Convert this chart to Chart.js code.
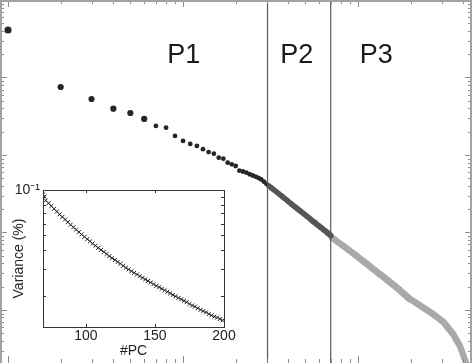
<!DOCTYPE html>
<html>
<head>
<meta charset="utf-8">
<script src="https://cdn.jsdelivr.net/npm/chart.js@4.4.0/dist/chart.umd.min.js"></script>
<style>
  html, body { margin: 0; padding: 0; background: #fff; overflow: hidden; }
  #wrap { position: relative; width: 474px; height: 363px; }
  canvas { position: absolute; left: 0; top: 0; }
</style>
</head>
<body>
<div id="wrap">
  <canvas id="mainChart" width="474" height="363"></canvas>
  <canvas id="insetChart" width="474" height="363"></canvas>
</div>
<script>
// --- DATA: explained variance (%) per principal component ---
const pcP1 = [1, 2, 3, 4, 5, 6, 7, 8, 9, 10, 11, 12, 13, 14, 15, 16, 17, 18, 19, 20,
              21, 22, 23, 24, 25, 26, 27, 28, 29, 30];
const varP1 = [41.0, 7.54, 5.28, 3.96, 3.48, 2.92, 2.37, 2.25, 1.76, 1.52, 1.39, 1.31, 1.19, 1.09, 1.04,
               0.923, 0.896, 0.796, 0.759, 0.721, 0.627, 0.612, 0.594, 0.564, 0.544, 0.525, 0.505, 0.483, 0.452, 0.423];

const pcP2 = [31, 32, 33, 34, 35, 36, 37, 38, 39, 40, 41, 42, 43, 44, 45, 46, 47, 48, 49, 50,
              51, 52, 53, 54, 55, 56, 57, 58, 59, 60, 61, 62, 63, 64, 65, 66, 67, 68, 69, 70];
const varP2 = [0.398, 0.376, 0.356, 0.337, 0.320, 0.304, 0.290, 0.276, 0.264, 0.251,
               0.240, 0.230, 0.220, 0.211, 0.203, 0.195, 0.188, 0.181, 0.174, 0.168,
               0.162, 0.157, 0.151, 0.146, 0.141, 0.137, 0.133, 0.128, 0.124, 0.121,
               0.117, 0.114, 0.111, 0.107, 0.105, 0.102, 0.0988, 0.0962, 0.0935, 0.0905];

const pcP3 = [71, 73, 75, 77, 79, 81, 83, 85, 87, 89, 91, 93, 95, 97, 99,
              101, 103, 105, 107, 109, 111, 113, 115, 117, 119, 121, 123, 125, 127, 129,
              131, 133, 135, 137, 139, 141, 143, 145, 147, 149, 151, 153, 155, 157, 159,
              161, 163, 165, 167, 169, 171, 173, 175, 177, 179, 181, 183, 185, 187, 189,
              191, 193, 195, 197, 199,
              205, 210, 215, 220, 225, 230, 235, 240, 245, 250, 255, 260, 265, 270, 275,
              280, 285, 290, 295, 300, 305, 310, 315, 320, 325, 330, 335, 340, 345, 350,
              355, 360, 365, 370, 375, 380, 385, 390, 395, 400, 405, 410, 415, 420];
const varP3 = [0.0853, 0.0818, 0.0783, 0.0751, 0.0719, 0.0690, 0.0663, 0.0638, 0.0613, 0.0589,
               0.0567, 0.0547, 0.0527, 0.0508, 0.0490, 0.0473, 0.0457, 0.0442, 0.0428, 0.0414,
               0.0401, 0.0389, 0.0377, 0.0365, 0.0354, 0.0344, 0.0334, 0.0325, 0.0315, 0.0306,
               0.0298, 0.0290, 0.0283, 0.0276, 0.0269, 0.0262, 0.0256, 0.0250, 0.0244, 0.0238,
               0.0232, 0.0227, 0.0222, 0.0217, 0.0212, 0.0207, 0.0202, 0.0198, 0.0193, 0.0189,
               0.0185, 0.0181, 0.0176, 0.0172, 0.0169, 0.0165, 0.0161, 0.0158, 0.0155, 0.0151,
               0.0148, 0.0145, 0.0143, 0.0140, 0.0137,
               0.01322, 0.01276, 0.01231, 0.01188, 0.01150, 0.01113, 0.01080, 0.01046, 0.01015, 0.00985,
               0.00956, 0.00931, 0.00901, 0.00875, 0.00849, 0.00822, 0.00800, 0.00774, 0.00752, 0.00730,
               0.00713, 0.00684, 0.00654, 0.00625, 0.00598, 0.00574, 0.00550, 0.00528, 0.00506, 0.00486,
               0.00459, 0.00435, 0.00411, 0.00391, 0.00371, 0.00351, 0.00328, 0.00305, 0.00282, 0.00260,
               0.00241, 0.00222, 0.00204, 0.00187];

// period boundaries (#PC) and labels
const boundaryPCs = [30.4, 69.8];
const periodNames = ['P1', 'P2', 'P3'];
const periodLabelPCs = [10.1, 44.7, 127];
const periodLabelLevel = 15.2;

// axis ranges
const X_MIN = 0.9, X_MAX = 448;
const Y_MIN = 0.00207, Y_MAX = 100;
const INSET_X = [69, 200];
const INSET_Y = [0.01239, 0.1];

const FONT = '"Liberation Sans", Arial, Helvetica, sans-serif';

function toPoints(pcs, vals) {
    return pcs.map((pc, i) => ({ x: pc, y: vals[i] }));
}

// --- MAIN CHART: frame + inward log ticks ---
const mainFrame = {
    id: 'mainFrame',
    afterDraw(chart) {
        const { ctx, chartArea: a, scales: { x, y } } = chart;
        ctx.save();
        ctx.strokeStyle = '#8a8a8a';
        ctx.lineWidth = 1;
        ctx.beginPath();
        for (let d = 1; d <= 100; d *= 10) {
            for (let m = 1; m < 10; m++) {
                const v = m * d;
                if (v < X_MIN || v > X_MAX) continue;
                const px = Math.round(x.getPixelForValue(v)) + 0.5;
                const len = m === 1 ? 7 : 4;
                ctx.moveTo(px, a.top); ctx.lineTo(px, a.top + len);
                ctx.moveTo(px, a.bottom); ctx.lineTo(px, a.bottom - len);
            }
        }
        for (let d = 0.001; d <= 10; d *= 10) {
            for (let m = 1; m <= 10; m++) {
                const v = m * d;
                if (v < Y_MIN || v > Y_MAX) continue;
                const py = Math.round(y.getPixelForValue(v)) + 0.5;
                const len = (m === 1 || m === 10) ? 7 : 4;
                ctx.moveTo(a.left, py); ctx.lineTo(a.left + len, py);
                ctx.moveTo(a.right, py); ctx.lineTo(a.right - len, py);
            }
        }
        ctx.stroke();
        ctx.strokeStyle = '#a3a3a3';
        ctx.lineWidth = 2;
        ctx.beginPath();
        ctx.moveTo(a.left + 1, a.bottom);
        ctx.lineTo(a.left + 1, a.top + 1);
        ctx.lineTo(a.right - 1, a.top + 1);
        ctx.lineTo(a.right - 1, a.bottom);
        ctx.stroke();
        ctx.restore();
    }
};

const periodLabels = {
    id: 'periodLabels',
    afterDatasetsDraw(chart) {
        const { ctx, scales: { x, y } } = chart;
        ctx.save();
        ctx.font = '27px ' + FONT;
        ctx.fillStyle = '#1a1a1a';
        ctx.textAlign = 'center';
        ctx.textBaseline = 'alphabetic';
        periodNames.forEach((name, i) => {
            ctx.fillText(name, x.getPixelForValue(periodLabelPCs[i]), y.getPixelForValue(periodLabelLevel));
        });
        ctx.restore();
    }
};

const boundarySets = boundaryPCs.map(b => ({
    data: [{ x: b, y: Y_MIN }, { x: b, y: Y_MAX }],
    showLine: true,
    borderColor: '#5a5a5a',
    borderWidth: 1.2,
    pointRadius: 0
}));

new Chart(document.getElementById('mainChart'), {
    type: 'scatter',
    data: {
        datasets: [
            ...boundarySets,
            {
                data: toPoints(pcP1, varP1),
                backgroundColor: '#262626',
                borderWidth: 0,
                pointRadius: pcP1.map(pc => pc === 1 ? 3.6 : (pc <= 6 ? 3.1 : 2.4))
            },
            {
                data: toPoints(pcP2, varP2),
                backgroundColor: '#565656',
                borderWidth: 0,
                pointRadius: 2.8
            },
            {
                data: toPoints(pcP3, varP3),
                backgroundColor: '#a9a9a9',
                borderWidth: 0,
                pointRadius: 3.2
            }
        ]
    },
    options: {
        responsive: false,
        animation: false,
        events: [],
        layout: { autoPadding: false, padding: { left: 0, right: 2, top: 0, bottom: 0 } },
        plugins: { legend: { display: false }, tooltip: { enabled: false } },
        scales: {
            x: { type: 'logarithmic', min: X_MIN, max: X_MAX, display: false },
            y: { type: 'logarithmic', min: Y_MIN, max: Y_MAX, display: false }
        }
    },
    plugins: [mainFrame, periodLabels]
});

// --- INSET: PC 69-200, linear x ---
const insetPoints = toPoints(pcP2.concat(pcP3), varP2.concat(varP3))
    .filter(p => p.x >= INSET_X[0] && p.x <= INSET_X[1]);

const insetFrame = {
    id: 'insetFrame',
    beforeDatasetsDraw(chart) {
        const { ctx, chartArea: a } = chart;
        ctx.save();
        ctx.fillStyle = '#fff';
        ctx.fillRect(a.left, a.top, a.right - a.left, a.bottom - a.top);
        ctx.restore();
    },
    afterDraw(chart) {
        const { ctx, chartArea: a, scales: { x, y } } = chart;
        ctx.save();
        ctx.strokeStyle = '#333';
        ctx.lineWidth = 1;
        ctx.beginPath();
        [100, 150].forEach(v => {
            const px = Math.round(x.getPixelForValue(v)) + 0.5;
            ctx.moveTo(px, a.top); ctx.lineTo(px, a.top + 3);
            ctx.moveTo(px, a.bottom); ctx.lineTo(px, a.bottom - 3);
        });
        for (let m = 2; m < 10; m++) {
            const v = m * 0.01;
            if (v < INSET_Y[0]) continue;
            const py = Math.round(y.getPixelForValue(v)) + 0.5;
            ctx.moveTo(a.left, py); ctx.lineTo(a.left + 3, py);
            ctx.moveTo(a.right, py); ctx.lineTo(a.right - 3, py);
        }
        ctx.stroke();
        ctx.strokeRect(Math.round(a.left) + 0.5, Math.round(a.top) + 0.5,
                       Math.round(a.right - a.left), Math.round(a.bottom - a.top));
        ctx.restore();
    }
};

new Chart(document.getElementById('insetChart'), {
    type: 'scatter',
    data: {
        datasets: [{
            data: insetPoints,
            pointStyle: 'crossRot',
            pointRadius: 2.8,
            borderColor: '#1e1e1e',
            backgroundColor: '#1e1e1e',
            borderWidth: 1
        }]
    },
    options: {
        responsive: false,
        animation: false,
        events: [],
        layout: { autoPadding: false, padding: { left: 0, top: 190, right: 250, bottom: 0 } },
        plugins: { legend: { display: false }, tooltip: { enabled: false } },
        scales: {
            x: {
                type: 'linear', min: INSET_X[0], max: INSET_X[1],
                grid: { display: false, drawTicks: false },
                border: { display: false },
                ticks: { stepSize: 50, includeBounds: false, padding: 1, maxRotation: 0,
                         color: '#222', font: { family: FONT, size: 14 } },
                title: { display: true, text: '#PC', color: '#222',
                         font: { family: FONT, size: 14 }, padding: { top: 0, bottom: 3 } },
                afterFit: s => { s.height = 36; }
            },
            y: {
                type: 'logarithmic', min: INSET_Y[0], max: INSET_Y[1],
                grid: { display: false, drawTicks: false },
                border: { display: false },
                ticks: { autoSkip: false, padding: 3, color: '#222', font: { family: FONT, size: 14 },
                         callback: v => Math.abs(v - 0.1) < 1e-9 ? '10⁻¹' : '' },
                title: { display: true, text: 'Variance (%)', color: '#222',
                         font: { family: FONT, size: 14 }, padding: { top: 11, bottom: 0 } },
                afterFit: s => { s.width = 43; }
            }
        }
    },
    plugins: [insetFrame]
});
</script>
</body>
</html>
